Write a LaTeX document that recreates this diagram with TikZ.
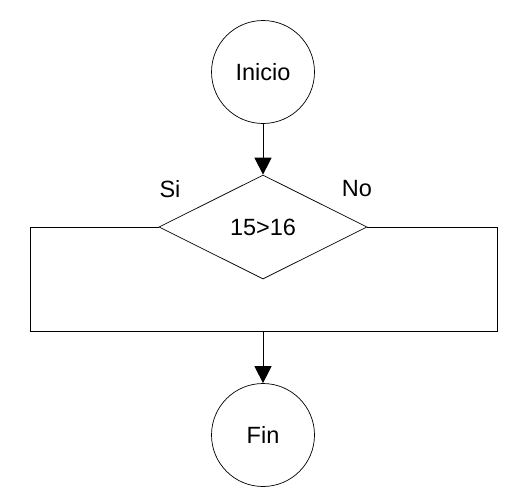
\documentclass[tikz,border=0pt]{standalone}
\usepackage{fontspec}
\setmainfont{Liberation Sans}
\usetikzlibrary{shapes.geometric,arrows.meta}
\begin{document}
\begin{tikzpicture}[x=1pt,y=-1pt,
  term/.style={circle,draw,line width=0.7pt,minimum size=103pt,inner sep=0pt,font=\fontsize{23.5}{28}\selectfont},
  decis/.style={diamond,draw,line width=0.7pt,minimum width=208pt,minimum height=104pt,inner sep=0pt,font=\fontsize{23.5}{28}\selectfont},
  lbl/.style={font=\fontsize{23.5}{28}\selectfont},
  flow/.style={line width=0.9pt},
  arr/.style={line width=0.9pt,-{Triangle[length=17pt,width=17pt]}}]
\useasboundingbox (0,0) rectangle (521,491);
\node[term] (ini) at (263,72) {Inicio};
\node[decis] (dec) at (263,227) {15>16};
\node[term] (fin) at (263,435) {Fin};
\node[lbl] (si) at (170,189) {Si};
\node[lbl] (no) at (357,189) {No};
\coordinate (m) at (263,331);
\draw[arr] (ini) -- (dec.north);
\draw[flow] (dec.west) -- (30,227) |- (m);
\draw[flow] (dec.east) -- (497,227) |- (m);
\draw[arr] (m) -- (fin.north);
\end{tikzpicture}
\end{document}
